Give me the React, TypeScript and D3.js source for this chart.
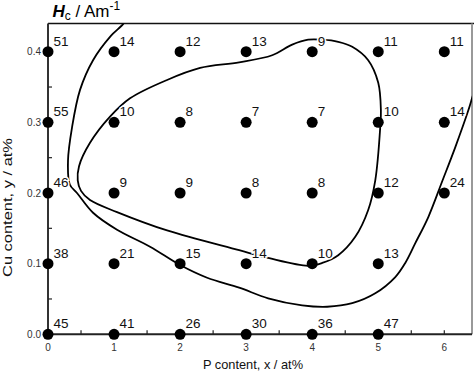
import React from "react";
import * as d3 from "d3";

const W = 474;
const H = 373;

const xs = [0, 1, 2, 3, 4, 5, 6];
const ys = [0.0, 0.1, 0.2, 0.3, 0.4];
const xTickLabels = ["0", "1", "2", "3", "4", "5", "6"];
const yTickLabels = ["0.0", "0.1", "0.2", "0.3", "0.4"];

// Hc values by row (y), columns x = 0..6 (null = no sample)
const row00 = [45, 41, 26, 30, 36, 47, null];
const row01 = [38, 21, 15, 14, 10, 13, null];
const row02 = [46, 9, 9, 8, 8, 12, 24];
const row03 = [55, 10, 8, 7, 7, 10, 14];
const row04 = [51, 14, 12, 13, 9, 11, 11];
const rows = [row00, row01, row02, row03, row04];

// Contour lines, in data coordinates [x, y]
const innerContour: [number, number][] = [
  [2.894, 0.385], [2.303, 0.377], [1.803, 0.36], [1.242, 0.334], [0.939, 0.308],
  [0.636, 0.271], [0.47, 0.238], [0.45, 0.218], [0.5, 0.203], [0.636, 0.19],
  [1.045, 0.173], [1.803, 0.147], [2.894, 0.119], [3.333, 0.108], [3.939, 0.097],
  [4.152, 0.101], [4.394, 0.112], [4.652, 0.138], [4.848, 0.176], [4.955, 0.218],
  [5.03, 0.293], [5.04, 0.317], [5.0, 0.356], [4.848, 0.388], [4.606, 0.407],
  [4.394, 0.414], [4.152, 0.417], [3.939, 0.417], [3.697, 0.41], [3.394, 0.395],
];
const outerContour: [number, number][] = [
  [1.17, 0.445], [1.136, 0.439], [0.939, 0.421], [0.682, 0.388], [0.485, 0.346],
  [0.364, 0.293], [0.303, 0.246], [0.33, 0.212], [0.439, 0.2], [0.682, 0.172],
  [1.045, 0.148], [1.545, 0.124], [2.0, 0.098], [2.409, 0.08], [2.894, 0.066],
  [3.333, 0.051], [3.848, 0.041], [4.227, 0.039], [4.606, 0.044], [4.955, 0.058],
  [5.258, 0.081], [5.409, 0.101], [5.561, 0.129], [5.758, 0.166], [5.97, 0.217],
  [6.167, 0.265], [6.364, 0.317], [6.44, 0.34], [6.5, 0.355],
];

const left = 48;
const right = 472;
const top = 23.5;
const bottom = 334.3;

export default function App() {
  const x = d3.scaleLinear().domain([0, 6]).range([48, 444.3]);
  const y = d3.scaleLinear().domain([0, 0.4]).range([334.3, 51.7]);

  const lineOpen = d3
    .line<[number, number]>()
    .x((d) => x(d[0]))
    .y((d) => y(d[1]))
    .curve(d3.curveCatmullRom.alpha(0.5));
  const lineClosed = d3
    .line<[number, number]>()
    .x((d) => x(d[0]))
    .y((d) => y(d[1]))
    .curve(d3.curveCatmullRomClosed.alpha(0.5));

  const minorX = d3.range(0, 6.5, 0.5);
  const minorY = d3.range(0, 0.45, 0.05);

  const points: { px: number; py: number; v: number }[] = [];
  rows.forEach((row, ri) => {
    row.forEach((v, ci) => {
      if (v !== null) points.push({ px: x(xs[ci]), py: y(ys[ri]), v });
    });
  });

  const font = "'Liberation Sans', Arial, Helvetica, sans-serif";

  return (
    <svg
      width={W}
      height={H}
      style={{ position: "absolute", left: 0, top: 0, background: "#fff" }}
      fontFamily={font}
    >
      <defs>
        <clipPath id="plot">
          <rect x={left} y={top} width={right - left} height={bottom - top} />
        </clipPath>
      </defs>
      <rect x={0} y={0} width={W} height={H} fill="#fff" />

      {/* frame */}
      <line x1={left} x2={W} y1={top} y2={top} stroke="#111" strokeWidth={1.6} />
      <line x1={right} x2={right} y1={top} y2={bottom} stroke="#999" strokeWidth={2} />

      {/* contours */}
      <g clipPath="url(#plot)" fill="none" stroke="#000" strokeWidth={1.8}>
        <path d={lineClosed(innerContour) || ""} />
        <path d={lineOpen(outerContour) || ""} />
      </g>

      {/* axes */}
      <line x1={left} x2={right} y1={bottom} y2={bottom} stroke="#222" strokeWidth={2} />
      <line x1={left} x2={left} y1={top} y2={bottom} stroke="#333" strokeWidth={2} />
      {minorX.map((t) => (
        <line key={"mx" + t} x1={x(t)} x2={x(t)} y1={bottom} y2={bottom - 4} stroke="#222" strokeWidth={1.2} />
      ))}
      {minorY.map((t) => (
        <line key={"my" + t} x1={left} x2={left + 4} y1={y(t)} y2={y(t)} stroke="#222" strokeWidth={1.2} />
      ))}
      {xs.map((t, i) => (
        <text key={"xt" + t} x={x(t)} y={350.5} fontSize={10} textAnchor="middle" fill="#333">
          {xTickLabels[i]}
        </text>
      ))}
      {ys.map((t, i) => (
        <text key={"yt" + t} x={41} y={y(t) + 3.6} fontSize={10} textAnchor="end" fill="#333">
          {yTickLabels[i]}
        </text>
      ))}

      {/* value labels */}
      {points.map((p, i) => (
        <text
          key={"l" + i}
          x={p.px + 5.5}
          y={p.py - 6}
          fontSize={13.5}
          fill="#111"
          stroke="#fff"
          strokeWidth={3}
          paintOrder="stroke"
        >
          {p.v}
        </text>
      ))}

      {/* dots */}
      {points.map((p, i) => (
        <circle key={"c" + i} cx={p.px} cy={p.py} r={5.5} fill="#000" />
      ))}

      {/* axis titles */}
      <text x={253} y={369} fontSize={12.8} textAnchor="middle" fill="#111">
        P content, x / at%
      </text>
      <text
        transform="translate(11.5,207.5) rotate(-90)"
        fontSize={13}
        textAnchor="middle"
        fill="#111"
        textLength={139}
        lengthAdjust="spacingAndGlyphs"
      >
        Cu content, y / at%
      </text>

      {/* chart title */}
      <text x={52.5} y={17} fontSize={17} fill="#000">
        <tspan fontWeight="bold" fontStyle="italic">H</tspan>
        <tspan fontSize={12} dy={3}>c</tspan>
        <tspan dy={-3}> / Am</tspan>
        <tspan fontSize={12} dy={-7}>-1</tspan>
      </text>
    </svg>
  );
}
